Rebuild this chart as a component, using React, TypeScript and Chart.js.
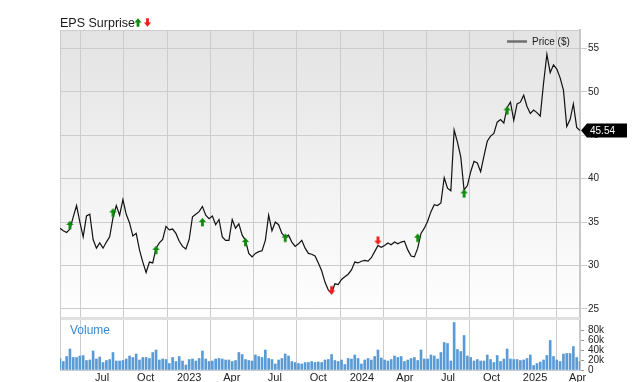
import React, { useEffect, useRef } from "react";
import { Chart, registerables } from "chart.js";
Chart.register(...registerables);

// ---------- data ----------
const START_DATE = "2022-04-03";
const STEP_DAYS = 7;

const prices = [
  34.3, 34.0, 33.8, 34.2, 35.6, 36.9, 35.0, 33.3, 35.7, 35.9,
  33.0, 32.0, 32.6, 32.0, 32.7, 33.3, 35.5, 36.9, 35.8, 37.6,
  35.9, 34.9, 33.4, 33.7, 31.8, 30.4, 29.2, 30.4, 30.3, 32.0,
  32.6, 33.0, 34.5, 34.1, 34.2, 33.7, 32.8, 32.2, 31.9, 33.0,
  35.6, 35.9, 36.2, 36.8, 35.8, 35.4, 35.7, 34.7, 35.3, 33.3,
  32.9, 32.9, 35.3, 34.3, 34.8, 33.5, 32.9, 31.4, 31.0, 31.4,
  31.6, 31.7, 32.9, 35.8, 34.0, 35.0, 34.7, 33.7, 33.3, 33.5,
  32.7, 32.2, 32.5, 32.9, 32.0, 31.4, 31.3, 31.1, 30.3, 29.4,
  28.1, 27.2, 26.8, 27.9, 27.8, 28.4, 28.7, 29.0, 29.5, 30.4,
  30.3, 30.5, 30.6, 30.5, 30.9, 31.6, 32.3, 32.1, 32.3, 32.6,
  32.4, 32.7, 32.5, 32.7, 32.8, 31.8, 31.1, 31.0, 32.0, 33.7,
  34.3, 35.1, 36.2, 37.0, 36.9, 37.2, 40.1, 38.9, 38.6, 45.6,
  44.2, 42.5, 38.7, 39.2, 40.8, 42.0, 41.8, 40.8, 42.6, 44.3,
  44.9, 45.2, 46.5, 46.8, 46.4, 48.2, 48.8, 46.7, 48.6, 48.8,
  49.6, 48.3, 47.5, 47.9, 47.6, 47.2, 51.0, 54.3, 52.2, 53.1,
  52.6, 51.6, 50.2, 46.0, 46.8, 48.6, 45.9, 45.54,
];

// weekly volume, thousands
const volumesK = [
  23, 17, 27, 42, 25, 25, 28, 29, 19, 20,
  38, 22, 26, 15, 19, 21, 35, 18, 18, 19,
  22, 28, 25, 32, 20, 25, 25, 23, 35, 40,
  20, 22, 21, 13, 25, 17, 27, 18, 10, 21,
  22, 18, 23, 38, 22, 17, 18, 22, 23, 22,
  20, 20, 17, 19, 35, 31, 21, 19, 18, 30,
  27, 25, 40, 23, 21, 12, 20, 23, 32, 28,
  17, 15, 13,
  12, 15, 15, 17, 15, 16, 15, 20, 21, 31,
  19, 17, 20, 11, 23, 22, 30, 23, 12, 20,
  23, 20, 27, 40, 24, 20, 18, 21, 28, 25,
  27, 17, 20, 23, 25, 19, 40, 22, 22, 30,
  28, 22, 35, 55, 53, 18, 95, 41, 37, 69,
  28, 25, 18, 21, 18, 18, 30, 21, 15, 29,
  17, 22, 42, 22, 21, 21, 19, 20, 23, 30,
  9, 13, 16, 20, 29, 59, 27, 20, 17, 32,
  33, 33, 47, 25, 17,
];

const epsWeeks = [3, 16, 29, 43, 56, 68, 82, 96, 108, 122, 135];
const epsValues = [34.67, 36.1, 31.8, 35.0, 32.7, 33.2, 27.15, 32.87, 33.2, 38.3, 47.85];
const epsBeat = [true, true, true, true, true, true, false, false, true, true, true];

const xTickDates = [
  "2022-07-01", "2022-10-01", "2023-01-01", "2023-04-01", "2023-07-01", "2023-10-01",
  "2024-01-01", "2024-04-01", "2024-07-01", "2024-10-01", "2025-01-01", "2025-04-01",
];
const xTickLabels = ["Jul", "Oct", "2023", "Apr", "Jul", "Oct", "2024", "Apr", "Jul", "Oct", "2025", "Apr"];
const priceTicks = [25, 30, 35, 40, 45, 50, 55];
const volumeTicksK = [0, 20, 40, 60, 80];
const volumeTickLabels = ["0", "20k", "40k", "60k", "80k"];
const lastPrice = 45.54;

// ---------- helpers ----------
const FONT = "'Liberation Sans', Arial, Helvetica, sans-serif";
const GREEN = "#0c8a0c";
const RED = "#f01c1c";
const DAY_MS = 86400000;
const startMs = Date.parse(START_DATE + "T00:00:00Z");
const dayOf = (d: string) => (Date.parse(d + "T00:00:00Z") - startMs) / DAY_MS;

function drawArrow(ctx: CanvasRenderingContext2D, cx: number, cy: number, up: boolean, color: string) {
  const hw = 3.6, headH = 4.4, stemW = 1.4, stemH = 4.2;
  const total = headH + stemH;
  const s = up ? 1 : -1;
  const tipY = cy - s * (total / 2);
  const baseHeadY = tipY + s * headH;
  const endY = tipY + s * total;
  ctx.save();
  ctx.fillStyle = color;
  ctx.beginPath();
  ctx.moveTo(cx, tipY);
  ctx.lineTo(cx + hw, baseHeadY);
  ctx.lineTo(cx + stemW, baseHeadY);
  ctx.lineTo(cx + stemW, endY);
  ctx.lineTo(cx - stemW, endY);
  ctx.lineTo(cx - stemW, baseHeadY);
  ctx.lineTo(cx - hw, baseHeadY);
  ctx.closePath();
  ctx.fill();
  ctx.restore();
}

function arrowCanvas(up: boolean, color: string) {
  const c = document.createElement("canvas");
  c.width = 9;
  c.height = 10;
  const ctx = c.getContext("2d")!;
  drawArrow(ctx, 4.5, 5, up, color);
  return c;
}

const decorPlugin = {
  id: "decor",
  beforeDraw(chart: any) {
    const { ctx, chartArea: a, scales } = chart;
    const ys = scales.y;
    ctx.save();
    ctx.fillStyle = "#ffffff";
    ctx.fillRect(0, 0, chart.width, chart.height);
    const g = ctx.createLinearGradient(0, ys.top, 0, ys.bottom);
    g.addColorStop(0, "#e3e3e3");
    g.addColorStop(1, "#ffffff");
    ctx.fillStyle = g;
    ctx.fillRect(a.left, ys.top, a.right - a.left, ys.bottom - ys.top);
    ctx.restore();
  },
  beforeDatasetsDraw(chart: any) {
    const { ctx, chartArea: a, scales } = chart;
    const ys = scales.y;
    ctx.save();
    ctx.fillStyle = "#e0e0e0";
    ctx.fillRect(a.left, ys.bottom - 1, a.right - a.left, 3);
    ctx.strokeStyle = "#cccccc";
    ctx.lineWidth = 1;
    ctx.beginPath();
    ctx.moveTo(a.left, a.top + 0.5);
    ctx.lineTo(a.right, a.top + 0.5);
    ctx.moveTo(a.left + 0.5, a.top);
    ctx.lineTo(a.left + 0.5, a.bottom);
    ctx.stroke();
    ctx.restore();
  },
  afterDraw(chart: any) {
    const { ctx, chartArea: a, scales } = chart;
    ctx.save();
    // header
    ctx.fillStyle = "#1a1a1a";
    ctx.font = `12.5px ${FONT}`;
    ctx.textBaseline = "alphabetic";
    ctx.textAlign = "left";
    ctx.fillText("EPS Surprise", 60, 26.5);
    drawArrow(ctx, 138, 22.5, true, GREEN);
    drawArrow(ctx, 147.5, 22.5, false, RED);
    // legend
    ctx.strokeStyle = "#707070";
    ctx.lineWidth = 2.5;
    ctx.beginPath();
    ctx.moveTo(507, 41.5);
    ctx.lineTo(527, 41.5);
    ctx.stroke();
    ctx.fillStyle = "#1a1a1a";
    ctx.font = `10px ${FONT}`;
    ctx.fillText("Price ($)", 532, 45);
    // volume label
    ctx.fillStyle = "#3a8ad4";
    ctx.font = `12px ${FONT}`;
    ctx.fillText("Volume", 70, 334);
    // last price tag
    const y = scales.y.getPixelForValue(lastPrice);
    const x0 = a.right + 1;
    ctx.fillStyle = "#000000";
    ctx.beginPath();
    ctx.moveTo(x0, y);
    ctx.lineTo(x0 + 6, y - 7);
    ctx.lineTo(627, y - 7);
    ctx.lineTo(627, y + 7);
    ctx.lineTo(x0 + 6, y + 7);
    ctx.closePath();
    ctx.fill();
    ctx.fillStyle = "#ffffff";
    ctx.font = `10px ${FONT}`;
    ctx.textBaseline = "middle";
    ctx.fillText(lastPrice.toFixed(2), 590, y + 0.5);
    ctx.restore();
  },
};

export default function App() {
  const ref = useRef<HTMLCanvasElement | null>(null);

  useEffect(() => {
    if (!ref.current) return;
    const maxDay = (prices.length - 1) * STEP_DAYS;
    const priceData = prices.map((p, i) => ({ x: i * STEP_DAYS, y: p }));
    const volData = volumesK.map((v, i) => ({ x: i * STEP_DAYS, y: v }));
    const epsData = epsWeeks.map((w, i) => ({ x: w * STEP_DAYS, y: epsValues[i] }));
    const epsStyles = epsBeat.map((b) => (b ? arrowCanvas(true, GREEN) : arrowCanvas(false, RED)));

    const chart = new Chart(ref.current, {
      type: "line",
      data: {
        datasets: [
          {
            type: "scatter",
            data: epsData,
            xAxisID: "x",
            yAxisID: "y",
            pointStyle: epsStyles as any,
            pointRadius: 5,
            order: 0,
          } as any,
          {
            type: "line",
            label: "Price ($)",
            data: priceData,
            xAxisID: "x",
            yAxisID: "y",
            borderColor: "#111111",
            borderWidth: 1.2,
            pointRadius: 0,
            tension: 0,
            order: 1,
          },
          {
            type: "bar",
            label: "Volume",
            data: volData,
            xAxisID: "x",
            yAxisID: "yv",
            backgroundColor: "#5b9bd5",
            barThickness: 2,
            order: 2,
          } as any,
        ],
      },
      options: {
        responsive: false,
        animation: false,
        devicePixelRatio: 1,
        events: [],
        layout: { padding: { top: 30, left: 60, right: 0, bottom: 0 } },
        plugins: { legend: { display: false }, tooltip: { enabled: false }, title: { display: false } },
        scales: {
          x: {
            type: "linear",
            min: 0,
            max: maxDay,
            offset: false,
            grid: { color: "#cccccc", drawTicks: false },
            border: { display: true, color: "#cccccc" },
            ticks: {
              autoSkip: false,
              maxRotation: 0,
              padding: 1,
              color: "#222222",
              font: { family: FONT, size: 11 },
              callback: (_v: any, i: number) => xTickLabels[i],
            },
            afterBuildTicks: (s: any) => {
              s.ticks = xTickDates.map((d) => ({ value: dayOf(d) }));
            },
            afterFit: (s: any) => {
              s.height = 12;
            },
          },
          y: {
            type: "linear",
            position: "right",
            stack: "v",
            stackWeight: 288,
            min: 23.964,
            max: 57.106,
            grid: { color: "#cccccc", tickLength: 7 },
            border: { color: "#c8c8c8", width: 2 },
            ticks: {
              autoSkip: false,
              padding: 1,
              color: "#222222",
              font: { family: FONT, size: 10 },
              callback: (v: any) => String(v),
            },
            afterBuildTicks: (s: any) => {
              s.ticks = priceTicks.map((v) => ({ value: v }));
            },
            afterFit: (s: any) => {
              s.width = 60;
            },
          },
          yv: {
            type: "linear",
            position: "right",
            stack: "v",
            stackWeight: 52,
            min: 0,
            max: 104,
            grid: { drawOnChartArea: false, tickLength: 4, color: "#999999" },
            border: { color: "#c8c8c8", width: 2 },
            ticks: {
              autoSkip: false,
              padding: 4,
              color: "#222222",
              font: { family: FONT, size: 10, lineHeight: 1 },
              callback: (_v: any, i: number) => volumeTickLabels[i],
            },
            afterBuildTicks: (s: any) => {
              s.ticks = volumeTicksK.map((v) => ({ value: v }));
            },
            afterFit: (s: any) => {
              s.width = 60;
            },
          },
        },
      } as any,
      plugins: [decorPlugin],
    });
    return () => chart.destroy();
  }, []);

  return (
    <div style={{ position: "absolute", left: 0, top: 0, width: 640, height: 382, background: "#fff" }}>
      <canvas ref={ref} width={640} height={382} style={{ display: "block" }} />
    </div>
  );
}
